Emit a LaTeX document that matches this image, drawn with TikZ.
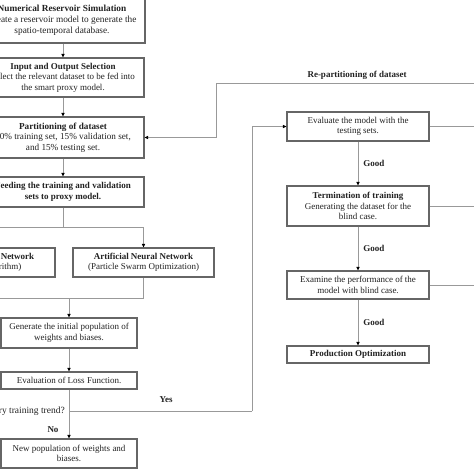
\documentclass[tikz,border=0pt]{standalone}
\usepackage{fontspec}
\setmainfont{Liberation Serif}
\usetikzlibrary{arrows.meta}
\definecolor{boxc}{HTML}{666666}
\definecolor{linec}{HTML}{999999}
\definecolor{txtc}{HTML}{222222}
\begin{document}
\begin{tikzpicture}[x=1pt,y=-1pt,
  every node/.style={text=txtc,font=\fontsize{9}{10.5}\selectfont},
  bx/.style={draw=boxc,line width=1.1pt,rectangle,inner sep=0pt,align=center,fill=white},
  conn/.style={draw=linec,line width=0.8pt},
  arr/.style={conn,-{Triangle[length=3.5pt,width=3.2pt,color=black]}},
  lbl/.style={font=\fontsize{9}{10.5}\selectfont\bfseries,inner sep=1pt}]
\useasboundingbox (0,0) rectangle (474,474);
\clip (0,0) rectangle (474,474);
% left column
\node[bx,minimum width=166pt,minimum height=45pt,font=\fontsize{9.3}{11}\selectfont] (b1) at (62,20.5)
  {\textbf{Numerical Reservoir Simulation}\\Create a reservoir model to generate the\\spatio-temporal database.};
\node[bx,minimum width=162pt,minimum height=39pt] (b2) at (63,77.5)
  {\textbf{Input and Output Selection}\\Select the relevant dataset to be fed into\\the smart proxy model.};
\node[bx,minimum width=162pt,minimum height=41pt,font=\fontsize{9.2}{10.7}\selectfont] (b3) at (63,137.5)
  {\textbf{Partitioning of dataset}\\70\% training set, 15\% validation set,\\and 15\% testing set.};
\node[bx,minimum width=162pt,minimum height=30pt] (b4) at (63,192)
  {\textbf{Feeding the training and validation}\\\textbf{sets to proxy model.}};
\node[bx,minimum width=141pt,minimum height=29pt] (ga) at (-15.5,262.5)
  {\textbf{Artificial Neural Network}\\(Genetic Algorithm)};
\node[bx,minimum width=141pt,minimum height=29pt] (ann) at (143.5,262.5)
  {\textbf{Artificial Neural Network}\\(Particle Swarm Optimization)};
\node[bx,minimum width=136pt,minimum height=30pt] (gen) at (69,333)
  {Generate the initial population of\\weights and biases.};
\node[bx,minimum width=136pt,minimum height=17pt] (ev) at (69,380.5)
  {Evaluation of Loss Function.};
\node[bx,minimum width=136pt,minimum height=29pt] (np) at (69,453.5)
  {New population of weights and\\biases.};
\node[anchor=east,inner sep=0pt,font=\fontsize{9.5}{11}\selectfont] (dec) at (65,411) {Satisfactory training trend?};
% right column
\node[bx,minimum width=142pt,minimum height=29pt] (evt) at (358,126.5)
  {Evaluate the model with the\\testing sets.};
\node[bx,minimum width=142pt,minimum height=40pt] (term) at (358,206)
  {\textbf{Termination of training}\\Generating the dataset for the\\blind case.};
\node[bx,minimum width=142pt,minimum height=28pt] (exam) at (358,285)
  {Examine the performance of the\\model with blind case.};
\node[bx,minimum width=142pt,minimum height=17pt] (prod) at (358,354.5)
  {\textbf{Production Optimization}};
% coordinates
\coordinate (j1) at (63,227);
\coordinate (j2) at (69,298);
\coordinate (j3) at (69,411);
\coordinate (j4) at (252,411);
\coordinate (r1) at (216,83);
\coordinate (r2) at (480,83);
\coordinate (e1) at (480,126.5);
\coordinate (e2) at (480,206);
\coordinate (e3) at (480,285);
% connectors left
\draw[arr] (b1.south-|b2.north) -- (b2);
\draw[arr] (b2) -- (b3);
\draw[arr] (b3) -- (b4);
\draw[conn] (b4) -- (j1);
\draw[conn] (ga.north|-j1) -- (ann.north|-j1);
\draw[arr] (ga.north|-j1) -- (ga);
\draw[arr] (ann.north|-j1) -- (ann);
\draw[conn] (ga.south) -- (ga.south|-j2) -- (ann.south|-j2) -- (ann.south);
\draw[arr] (j2) -- (gen);
\draw[arr] (gen) -- (ev);
\draw[arr] (ev) -- (np);
\draw[conn] (j3) -- (j4);
\draw[arr] (j4) |- (evt.west);
\node[lbl] (yes) at (166,400) {Yes};
\node[lbl] (no) at (53,430) {No};
% re-partitioning
\draw[arr] (r2) -- (r1) |- (b3.east);
\node[lbl] (rep) at (357,75) {Re-partitioning of dataset};
% right connectors
\draw[arr] (evt) -- (term) node[lbl,midway,right=4pt] {Good};
\draw[arr] (term) -- (exam) node[lbl,midway,right=4pt] {Good};
\draw[arr] (exam) -- (prod) node[lbl,midway,right=4pt] {Good};
\draw[conn] (evt.east) -- (e1);
\draw[conn] (term.east) -- (e2);
\draw[conn] (exam.east) -- (e3);
\end{tikzpicture}
\end{document}
